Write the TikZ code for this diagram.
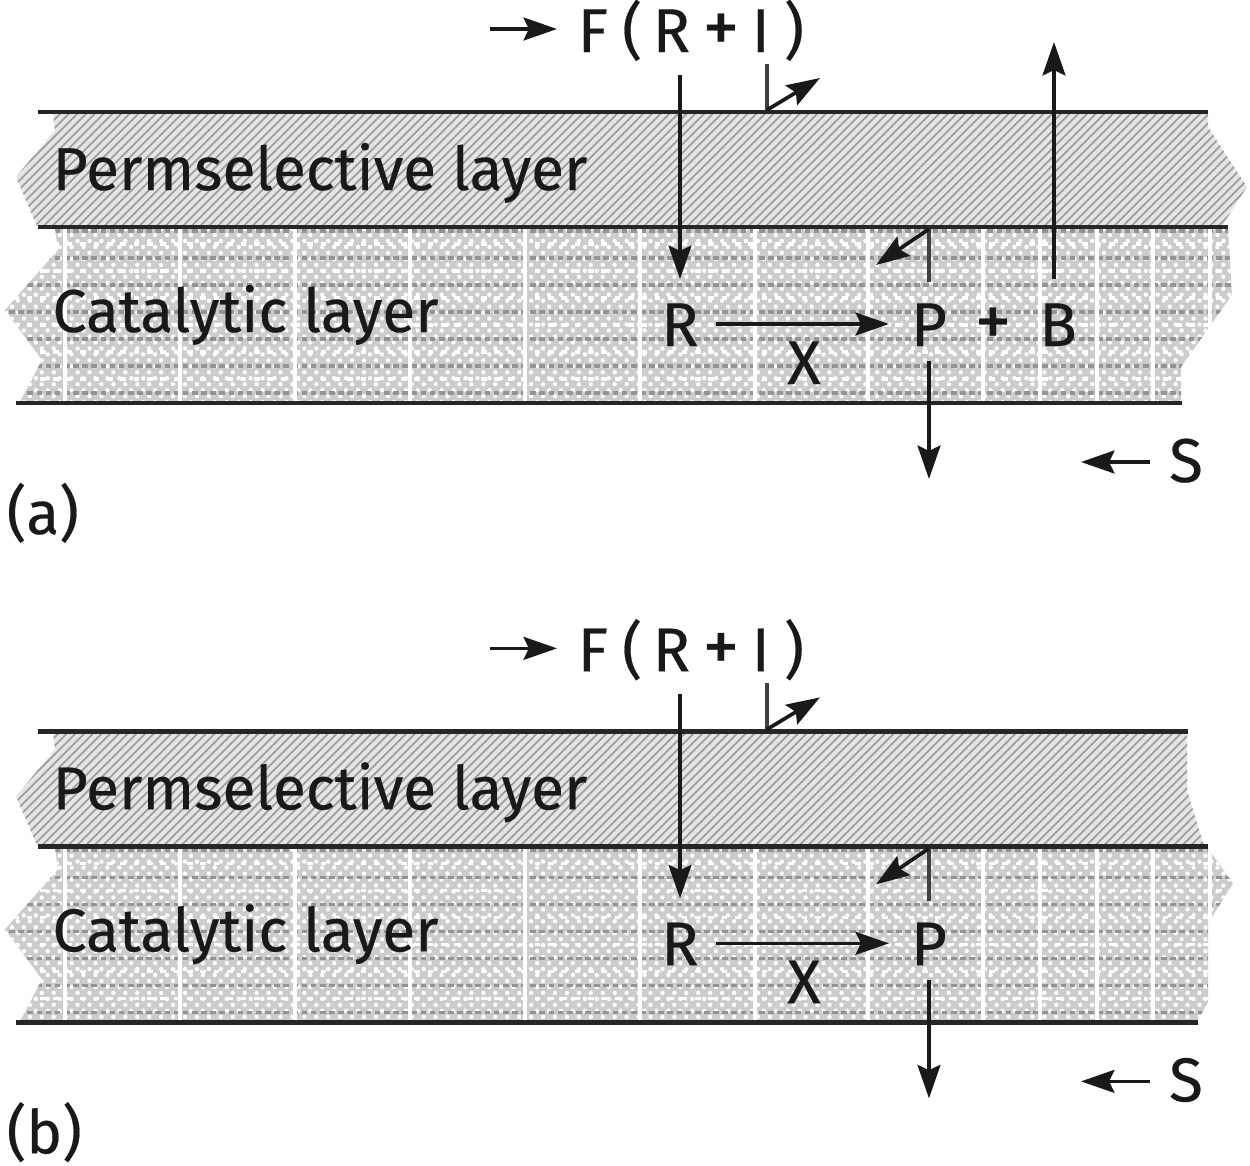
\documentclass[tikz,border=0pt]{standalone}
\usepackage{fontspec}
\setmainfont[FakeBold=.35]{Fira Sans}
\usetikzlibrary{positioning, calc, patterns.meta, arrows.meta}
\tikzset{
  lab/.style={inner sep=0pt, font=\fontsize{17.2pt}{20pt}\selectfont, text=black!90},
  big/.style={inner sep=0pt, font=\fontsize{17.6pt}{20pt}\selectfont, text=black!90},
  flow/.style={line width=1.05pt, black!90, -{Stealth[length=9.5pt,width=6.5pt,inset=1.5pt]}},
  stub/.style={line width=1pt, black!75},
  edge/.style={line width=1.25pt, black!85},
  permfill/.style={fill=black!10, postaction={pattern={Lines[angle=45,distance=1.75pt,line width=.5pt]}, pattern color=black!38}},
  catfill/.style={fill=black!20, postaction={pattern={Dots[radius=.62pt,distance=2.4pt,angle=45]}, pattern color=white}},
  darkrow/.style={black!42, line width=1pt, dash pattern=on 1.6pt off 1pt},
  whiterow/.style={white, line width=.9pt, dash pattern=on 1.6pt off 2.2pt},
  whitebar/.style={white, line width=1.3pt}
}
\newcommand{\bigplus}{{\fontsize{21pt}{20pt}\selectfont +}}
% the rows and bars of the catalytic layer, in a scope of its own
\newcommand{\catrows}{%
  \foreach \ry in {231,258,285,312,339,366,393}
    \draw[darkrow] (0,\ry) -- (1250,\ry);
  \foreach \ry in {244,271,298,325,352,379}
    \draw[whiterow] (0,\ry) -- (1250,\ry);
  \foreach \vx in {65,180,295,410,525,640,755,868,983,1040,1097,1153,1210}
    \draw[whitebar] (\vx,227) -- (\vx,403);
}
% labels and arrows common to both panels
\newcommand{\streams}[1]{%
  \draw[edge] (38,112) -- (#1,112);
  \node[lab, anchor=base west] (perm) at (52,190) {Permselective layer};
  \node[lab, anchor=base west] (cat) at (52,332) {Catalytic layer};
  \node[big, anchor=base west] (feed) at (577,52) {F\kern4pt(\kern3pt R\kern3.5pt\bigplus\kern3.5pt I\kern4pt)};
  \coordinate (fa) at (490,29);
  \coordinate (fb) at (557,29);
  \draw[flow] (fa) -- (fb);
  \node[big, anchor=base] (r) at (680,346) {R};
  \node[big, anchor=base] (p) at (929,346) {P};
  \node[big, anchor=base] (x) at (804,384) {X};
  \coordinate (ra) at (680,75);
  \coordinate (rb) at (680,279);
  \draw[flow] (ra) -- (rb);
  \coordinate (ma) at (716,324);
  \coordinate (mb) at (889,324);
  \draw[flow] (ma) -- (mb);
  \coordinate (pa) at (929,282);
  \coordinate (pb) at (929,229);
  \draw[stub] (pa) -- (pb);
  \coordinate (pc) at (876,265);
  \draw[flow] (pb) -- (pc);
  \coordinate (ia) at (767,64);
  \coordinate (ib) at (767,110);
  \draw[stub] (ia) -- (ib);
  \coordinate (ic) at (820,78);
  \draw[flow] (ib) -- (ic);
  \coordinate (pd) at (929,361);
  \coordinate (pe) at (929,479);
  \draw[flow] (pd) -- (pe);
  \node[big, anchor=base] (s) at (1186,482) {S};
  \coordinate (sa) at (1150,462);
  \coordinate (sb) at (1081,462);
  \draw[flow] (sa) -- (sb);
}
\begin{document}
\begin{tikzpicture}[x=.01cm, y=-.01cm]
  \useasboundingbox (0,0) rectangle (1250,1166);
  %(a)
  \fill[permfill] (53,114) -- (55,130) -- (16,177) -- (37,226) -- (1222,226) -- (1247,187) -- (1208,127) -- (1208,114) -- cycle;
  \begin{scope}
    \clip (55,228) -- (58,250) -- (5,310) -- (42,360) -- (20,402) -- (1181,402) -- (1181,367) -- (1232,295) -- (1228,228) -- cycle;
    \fill[catfill] (0,227) rectangle (1250,403);
    \catrows
  \end{scope}
  \draw[edge] (38,227) -- (1228,227);
  \draw[edge] (16,403) -- (1182,403);
  \streams{1208}
  \node[big, anchor=base] (plus) at (993,346) {\bigplus};
  \node[big, anchor=base] (b) at (1058,346) {B};
  \coordinate (ba) at (1054,279);
  \coordinate (bb) at (1054,42);
  \draw[flow] (ba) -- (bb);
  \node[lab, anchor=base west] (capa) at (6,534) {(a)};
  %(b)
  \begin{scope}[yshift=-6.19cm]
    \fill[permfill] (53,114) -- (55,130) -- (16,177) -- (37,226) -- (1204,226) -- (1187,171) -- (1187,114) -- cycle;
    \begin{scope}
      \clip (55,228) -- (58,250) -- (5,310) -- (42,360) -- (20,402) -- (1197,402) -- (1208,383) -- (1208,304) -- (1233,264) -- (1208,229) -- cycle;
      \fill[catfill] (0,227) rectangle (1250,403);
      \catrows
    \end{scope}
    \draw[edge] (38,227) -- (1208,227);
    \draw[edge] (16,403) -- (1198,403);
    \streams{1188}
    \node[lab, anchor=base west] (capb) at (6,534) {(b)};
  \end{scope}
\end{tikzpicture}
\end{document}
